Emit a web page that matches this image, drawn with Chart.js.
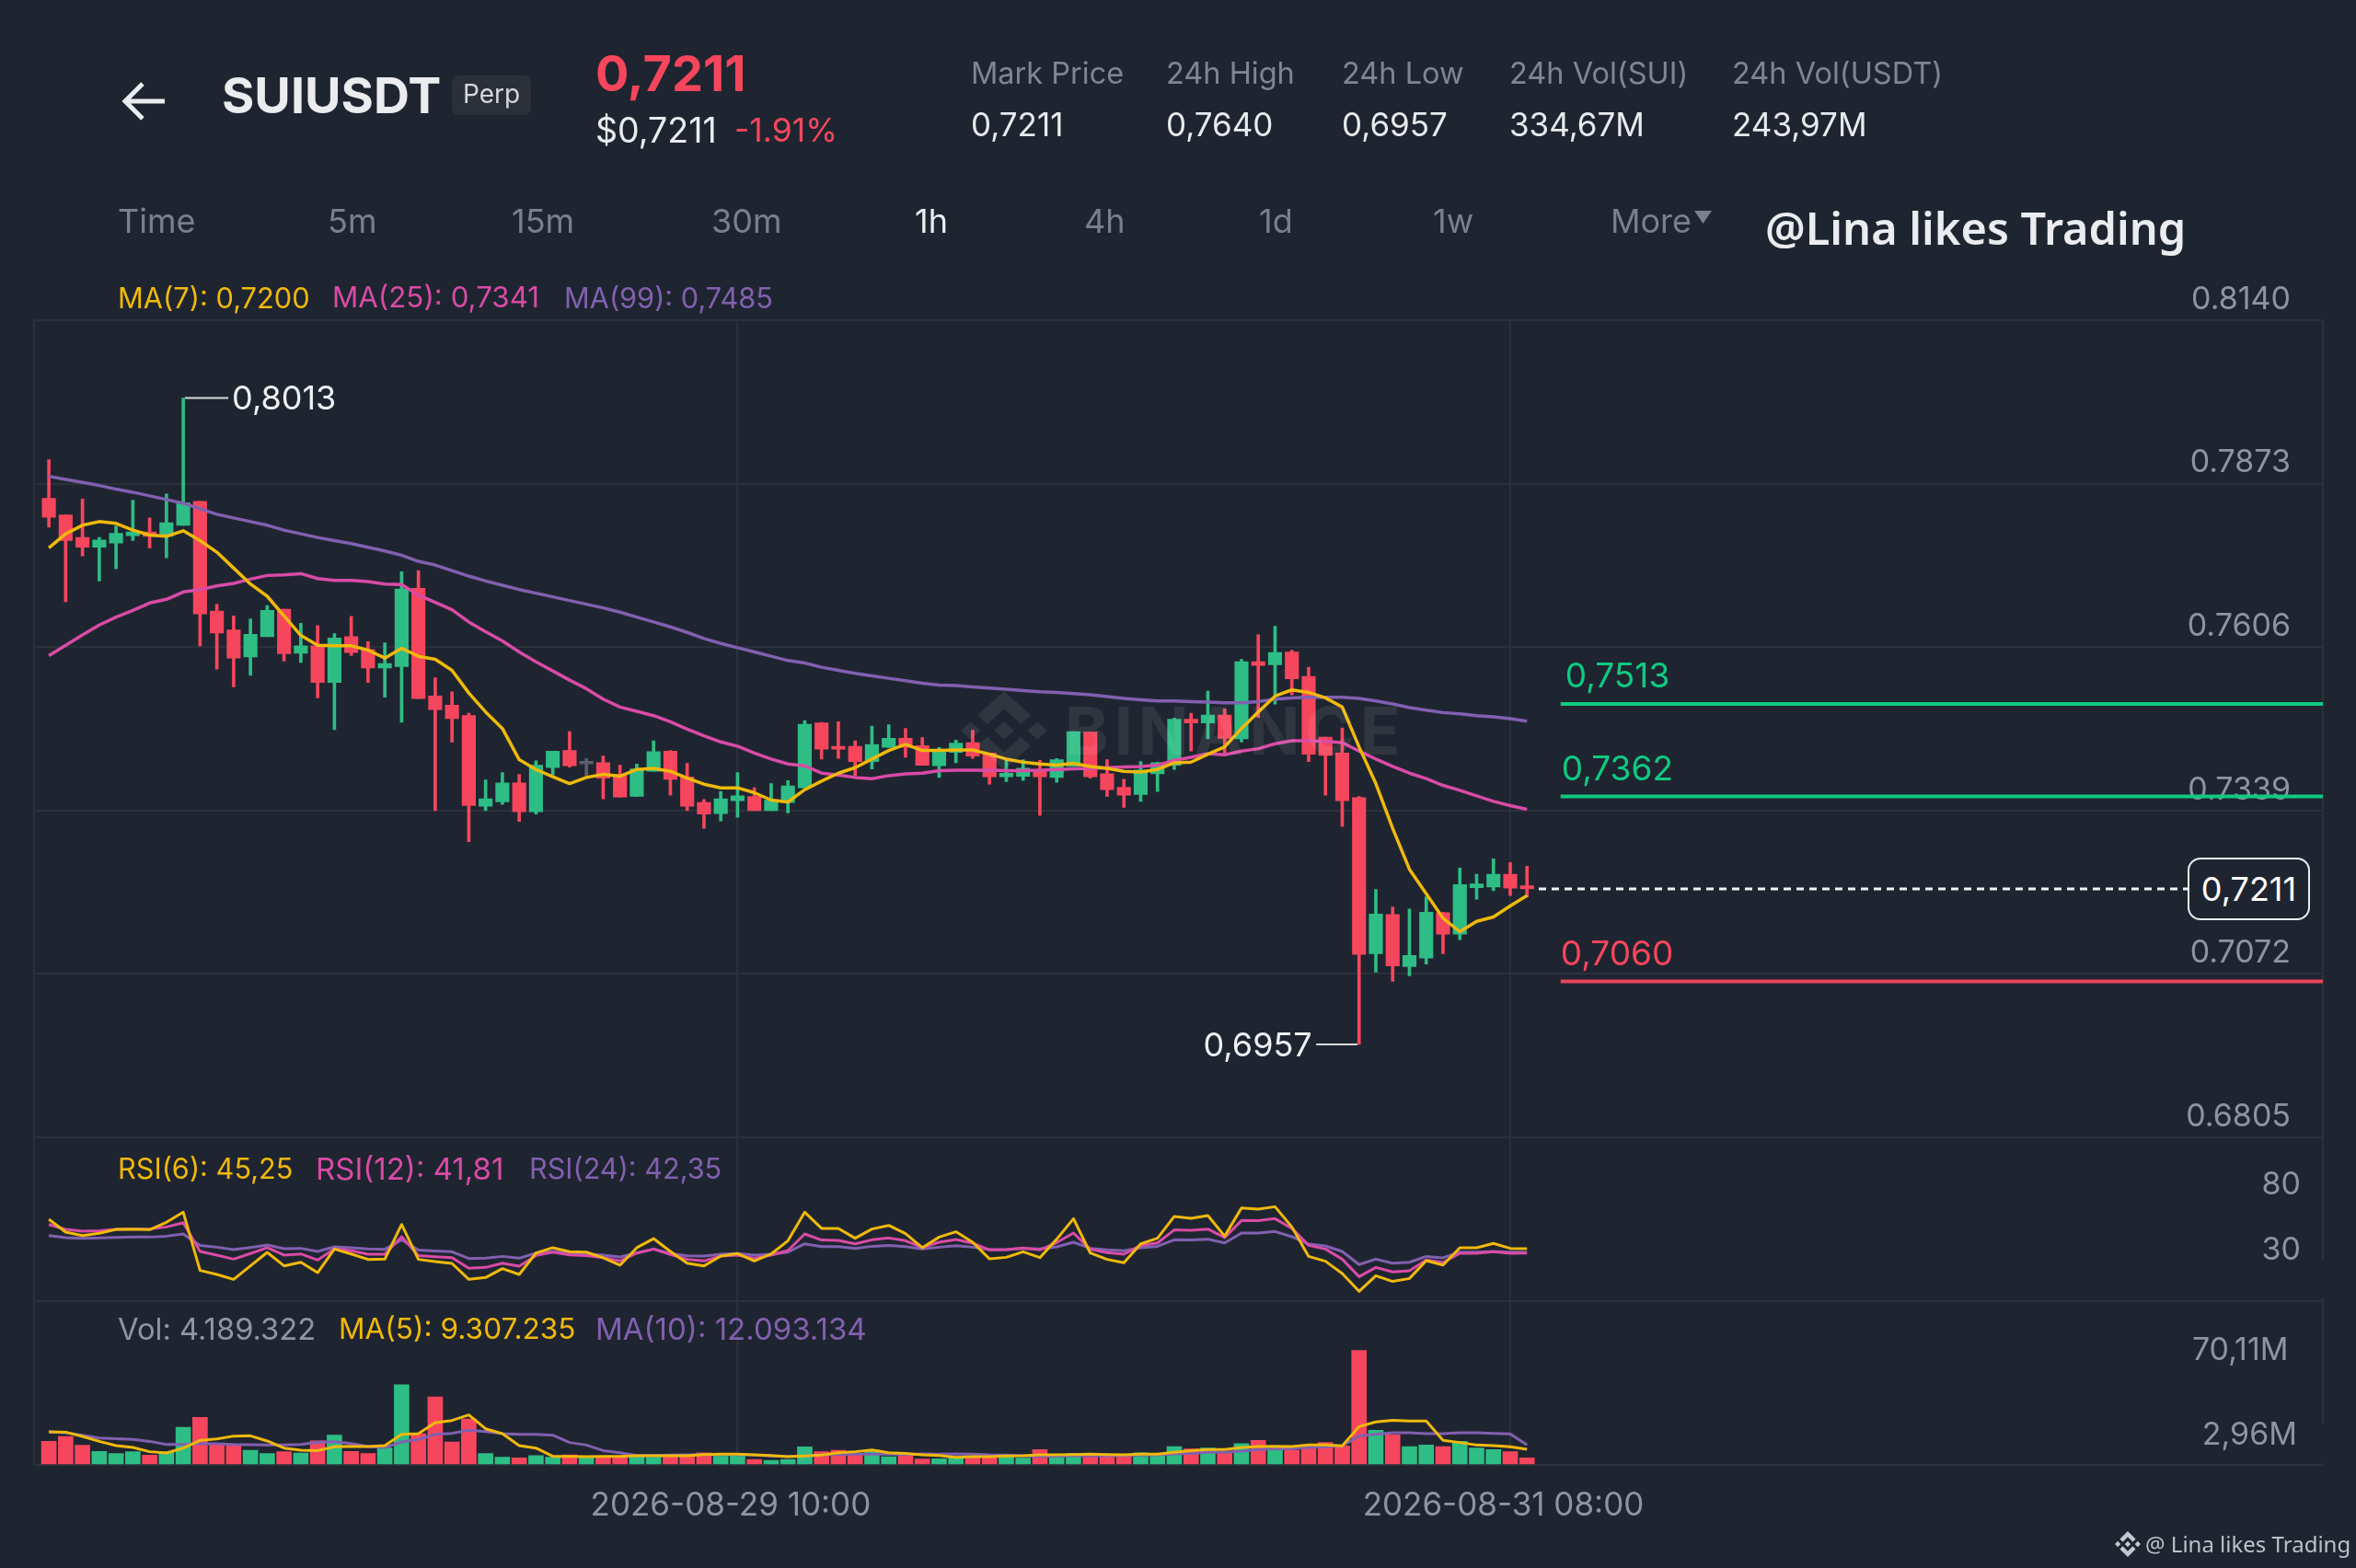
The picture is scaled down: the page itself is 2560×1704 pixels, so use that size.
<!DOCTYPE html>
<html><head><meta charset="utf-8">
<style>
html,body{margin:0;padding:0;background:#1f2530;width:2560px;height:1704px;overflow:hidden}
#w{position:relative;width:2560px;height:1704px;font-family:Inter,sans-serif}
canvas{position:absolute;left:0;top:0}
.t{position:absolute;white-space:nowrap;line-height:1;transform:translateY(-50%);pointer-events:none}
.g{color:#7f8691;font-size:32.5px}.v{color:#e8eaed;font-size:35px}.tab{color:#7a808b;font-size:36px}
.leg{font-size:31px}
</style></head><body><div id="w">
<canvas id="c" width="2560" height="1704"></canvas>
<svg style="position:absolute;left:131px;top:88px" width="52" height="44" viewBox="0 0 52 44"><path d="M48 22H6M24 3 5 22l19 19" fill="none" stroke="#eaecef" stroke-width="5"/></svg>
<div class="t" style="left:241px;top:104px;font-size:54px;font-weight:700;color:#eaecef">SUIUSDT</div>
<div style="position:absolute;left:491px;top:82px;width:86px;height:43px;background:#2b3038;border-radius:7px"></div>
<div class="t" style="left:503px;top:102px;font-size:28px;color:#d5d8dc">Perp</div>
<div class="t" style="left:647px;top:80px;font-size:54px;font-weight:700;color:#f6465d">0,7211</div>
<div class="t" style="left:647px;top:142px;font-size:37.5px;color:#eaecef">$0,7211</div>
<div class="t" style="left:798px;top:142px;font-size:35.5px;color:#f6465d">-1.91%</div>
<div class="t g" style="left:1055px;top:80px">Mark Price</div><div class="t v" style="left:1055px;top:135px">0,7211</div>
<div class="t g" style="left:1267px;top:80px">24h High</div><div class="t v" style="left:1267px;top:135px">0,7640</div>
<div class="t g" style="left:1458px;top:80px">24h Low</div><div class="t v" style="left:1458px;top:135px">0,6957</div>
<div class="t g" style="left:1640px;top:80px">24h Vol(SUI)</div><div class="t v" style="left:1640px;top:135px">334,67M</div>
<div class="t g" style="left:1882px;top:80px">24h Vol(USDT)</div><div class="t v" style="left:1882px;top:135px">243,97M</div>
<div class="t tab" style="left:128px;top:240px">Time</div>
<div class="t tab" style="left:356px;top:240px">5m</div>
<div class="t tab" style="left:556px;top:240px">15m</div>
<div class="t tab" style="left:773px;top:240px">30m</div>
<div class="t tab" style="left:994px;top:240px;color:#eaecef">1h</div>
<div class="t tab" style="left:1178px;top:240px">4h</div>
<div class="t tab" style="left:1368px;top:240px">1d</div>
<div class="t tab" style="left:1557px;top:240px">1w</div>
<div class="t tab" style="left:1750px;top:240px">More</div>
<svg style="position:absolute;left:1841px;top:229px" width="19" height="14"><path d="M0 0H19L9.5 14Z" fill="#7a808b"/></svg>
<div class="t" style="left:1918px;top:247px;font-family:'Noto Sans';font-weight:600;font-size:48.7px;color:#eaecef">@Lina likes Trading</div>
<div class="t leg" style="left:128px;top:324px;color:#f0b90b;font-size:30.8px">MA(7): 0,7200</div>
<div class="t leg" style="left:361px;top:324px;color:#d94ba6;font-size:31.3px">MA(25): 0,7341</div>
<div class="t leg" style="left:613px;top:324px;color:#8160b0;font-size:30.7px">MA(99): 0,7485</div>
<div class="t leg" style="left:128px;top:1270px;color:#f0b90b;font-size:30.7px">RSI(6): 45,25</div>
<div class="t leg" style="left:343px;top:1270px;color:#d94ba6;font-size:33px">RSI(12): 41,81</div>
<div class="t leg" style="left:575px;top:1270px;color:#8160b0;font-size:30.6px">RSI(24): 42,35</div>
<div class="t leg" style="left:128px;top:1444px;color:#8f95a0;font-size:32.7px">Vol: 4.189.322</div>
<div class="t leg" style="left:368px;top:1444px;color:#f0b90b;font-size:31.6px">MA(5): 9.307.235</div>
<div class="t leg" style="left:647px;top:1444px;color:#8160b0;font-size:33px">MA(10): 12.093.134</div>
<svg style="position:absolute;left:1044px;top:751px;pointer-events:none" width="94" height="86" viewBox="0 0 126.61 126.61" preserveAspectRatio="none"><g fill="rgba(255,255,255,.08)"><path d="M38.73 53.2l24.59-24.58 24.6 24.6 14.3-14.31L63.32 0 24.42 38.9l14.31 14.3z"/><path d="M0 63.31l14.3-14.31 14.31 14.31-14.31 14.3z"/><path d="M38.73 73.41l24.59 24.59 24.6-24.6 14.31 14.29-38.9 38.91-38.91-38.88-.02-.02z"/><path d="M98 63.31l14.3-14.31 14.31 14.3-14.31 14.32z"/><path d="M77.83 63.3L63.32 48.78 52.59 59.51l-1.24 1.23-2.54 2.54 14.51 14.5 14.51-14.47z"/></g></svg>
<div class="t" style="left:1157px;top:794px;font-size:72px;font-weight:700;letter-spacing:6px;color:rgba(255,255,255,.08)">BINANCE</div>
<div class="t" style="left:2377px;top:932px;width:129px;height:64px;transform:none;border:2.5px solid #eaecef;border-radius:14px;background:#1f2530;color:#fff;font-size:36px;text-align:center;line-height:64px">0,7211</div>
<div style="position:absolute;left:2522px;top:1370px;width:4px;height:41px;background:#1f2530"></div>
<div style="position:absolute;left:2522px;top:1547px;width:4px;height:43px;background:#1f2530"></div>
<svg style="position:absolute;left:2298px;top:1664px" width="28" height="28" viewBox="0 0 126.61 126.61"><g fill="#c4c8cf"><path d="M38.73 53.2l24.59-24.58 24.6 24.6 14.3-14.31L63.32 0 24.42 38.9l14.31 14.3z"/><path d="M0 63.31l14.3-14.31 14.31 14.31-14.31 14.3z"/><path d="M38.73 73.41l24.59 24.59 24.6-24.6 14.31 14.29-38.9 38.91-38.91-38.88-.02-.02z"/><path d="M98 63.31l14.3-14.31 14.31 14.3-14.31 14.32z"/><path d="M77.83 63.3L63.32 48.78 52.59 59.51l-1.24 1.23-2.54 2.54 14.51 14.5 14.51-14.47z"/></g></svg>
<div class="t" style="left:2331px;top:1678px;font-family:'Noto Sans';font-size:24px;color:#bcc1c9">@ Lina likes Trading</div>
</div>
<script src="https://cdn.jsdelivr.net/npm/chart.js@4/dist/chart.umd.min.js"></script>
<script>
const opens=[.7849,.7822,.7785,.7769,.7776,.7788,.7794,.7787,.7805,.7844,.7665,.7634,.7590,.7623,.7668,.7596,.7608,.7548,.7623,.7602,.7572,.7574,.7702,.7526,.7511,.7494,.7346,.7353,.7384,.7337,.7409,.7437,.7415,.7417,.7398,.7362,.7403,.7436,.7394,.7352,.7334,.7355,.7362,.7339,.7352,.7376,.7482,.7444,.7444,.7419,.7442,.7457,.7445,.7412,.7434,.7450,.7433,.7394,.7395,.7406,.7393,.7411,.7467,.7399,.7377,.7365,.7399,.7413,.7488,.7482,.7495,.7456,.7582,.7577,.7598,.7558,.7459,.7433,.7360,.7105,.7169,.7084,.7098,.7172,.7137,.7213,.7214,.7235,.7216];
const closes=[.7818,.7780,.7769,.7781,.7792,.7794,.7787,.7809,.7842,.7660,.7629,.7588,.7627,.7666,.7595,.7608,.7548,.7621,.7597,.7572,.7579,.7701,.7522,.7504,.7489,.7347,.7358,.7384,.7337,.7413,.7436,.7412,.7415,.7392,.7361,.7407,.7435,.7390,.7346,.7333,.7358,.7363,.7339,.7356,.7379,.7480,.7439,.7439,.7419,.7447,.7457,.7442,.7413,.7435,.7449,.7428,.7394,.7400,.7408,.7394,.7422,.7468,.7394,.7373,.7364,.7405,.7417,.7488,.7482,.7495,.7457,.7582,.7576,.7597,.7554,.7431,.7429,.7355,.7104,.7170,.7085,.7102,.7173,.7137,.7218,.7219,.7235,.7212,.7211];
const highs=[.7912,.7822,.7848,.7785,.7804,.7846,.7817,.7856,.8013,.7844,.7676,.7657,.7652,.7674,.7668,.7645,.7641,.7628,.7656,.7615,.7613,.7729,.7731,.7556,.7533,.7498,.7389,.7401,.7398,.7420,.7436,.7468,.7424,.7428,.7413,.7415,.7453,.7437,.7416,.7357,.7370,.7401,.7376,.7383,.7388,.7486,.7483,.7484,.7453,.7477,.7479,.7473,.7458,.7442,.7454,.7470,.7433,.7421,.7422,.7421,.7424,.7468,.7467,.7422,.7390,.7419,.7418,.7490,.7498,.7534,.7505,.7586,.7626,.7640,.7601,.7573,.7459,.7474,.7362,.7210,.7181,.7178,.7198,.7173,.7245,.7235,.7260,.7254,.7248];
const lows=[.7802,.7680,.7755,.7714,.7734,.7780,.7768,.7752,.7805,.7608,.7570,.7541,.7560,.7623,.7583,.7581,.7523,.7471,.7592,.7548,.7524,.7483,.7522,.7339,.7451,.7288,.7339,.7349,.7321,.7333,.7397,.7410,.7396,.7358,.7361,.7362,.7403,.7364,.7339,.7310,.7322,.7328,.7339,.7339,.7335,.7376,.7423,.7424,.7396,.7407,.7442,.7426,.7413,.7393,.7417,.7424,.7382,.7386,.7388,.7331,.7385,.7411,.7392,.7362,.7344,.7354,.7370,.7406,.7436,.7456,.7431,.7451,.7491,.7513,.7528,.7419,.7364,.7313,.6957,.7075,.7060,.7069,.7088,.7105,.7128,.7194,.7208,.7200,.7198];
const ma7=[.7768,.7791,.7805,.7811,.7808,.7797,.7789,.7787,.7796,.7780,.7761,.7735,.7709,.7689,.7657,.7625,.7609,.7608,.7608,.7601,.7588,.7604,.7591,.7586,.7568,.7531,.7500,.7473,.7422,.7406,.7394,.7383,.7393,.7398,.7395,.7406,.7408,.7403,.7392,.7382,.7376,.7376,.7368,.7356,.7353,.7373,.7387,.7400,.7409,.7423,.7437,.7447,.7437,.7437,.7438,.7438,.7431,.7423,.7418,.7415,.7413,.7416,.7411,.7408,.7403,.7402,.7406,.7417,.7418,.7431,.7443,.7473,.7500,.7526,.7536,.7532,.7523,.7508,.7443,.7383,.7310,.7243,.7203,.7163,.7141,.7158,.7165,.7183,.7200];
const ma25=[.7592,.7609,.7626,.7642,.7655,.7666,.7678,.7684,.7696,.7700,.7706,.7710,.7717,.7723,.7724,.7726,.7718,.7715,.7715,.7713,.7709,.7708,.7691,.7679,.7667,.7647,.7631,.7616,.7598,.7582,.7567,.7552,.7538,.7521,.7508,.7501,.7494,.7484,.7472,.7461,.7451,.7444,.7433,.7423,.7415,.7412,.7400,.7397,.7393,.7391,.7396,.7399,.7400,.7404,.7405,.7405,.7405,.7404,.7404,.7405,.7406,.7407,.7408,.7409,.7410,.7411,.7413,.7421,.7426,.7432,.7430,.7436,.7440,.7448,.7453,.7453,.7452,.7450,.7436,.7423,.7411,.7400,.7391,.7380,.7372,.7363,.7354,.7347,.7341];
const ma99=[.7885,.7880,.7875,.7870,.7864,.7859,.7853,.7847,.7841,.7832,.7823,.7817,.7811,.7805,.7797,.7791,.7785,.7780,.7775,.7769,.7763,.7756,.7746,.7740,.7731,.7722,.7714,.7707,.7700,.7694,.7688,.7682,.7676,.7670,.7663,.7655,.7647,.7639,.7630,.7620,.7612,.7605,.7598,.7591,.7584,.7580,.7573,.7568,.7563,.7559,.7555,.7551,.7547,.7544,.7543,.7541,.7539,.7537,.7535,.7533,.7532,.7530,.7528,.7525,.7522,.7520,.7518,.7518,.7517,.7516,.7515,.7515,.7517,.7521,.7523,.7524,.7524,.7524,.7522,.7518,.7513,.7507,.7503,.7499,.7497,.7494,.7492,.7489,.7485];
const rsi6=[67.9,58.0,55.4,57.1,60.1,60.4,59.9,65.6,73.4,28.5,25.4,21.6,32.0,42.4,32.0,34.8,26.8,45.0,41.2,37.0,37.2,63.9,37.0,35.3,33.9,21.6,23.0,29.9,25.4,41.9,46.0,42.9,42.6,38.2,32.5,46.0,53.0,43.1,34.1,32.0,39.6,41.5,35.8,41.2,51.4,73.4,60.9,60.9,53.3,60.4,63.2,56.8,46.0,54.2,58.3,50.2,37.4,38.6,42.9,38.4,52.6,68.4,41.9,37.0,34.4,49.0,53.3,70.1,68.7,70.8,54.9,76.7,75.7,77.6,62.0,39.3,35.6,26.1,12.4,24.4,20.0,22.3,36.0,32.7,46.0,46.0,49.3,45.5,45.25];
const rsi12=[63.9,60.1,58.7,59.0,60.1,60.4,60.4,62.0,65.3,43.1,40.3,37.2,41.5,46.0,40.3,41.2,36.5,45.0,43.6,41.0,41.0,54.5,40.0,39.1,38.4,30.1,30.8,34.1,31.8,40.0,42.6,40.5,40.0,38.4,35.8,41.9,45.0,40.8,37.0,35.8,39.6,40.3,37.9,40.3,43.8,56.6,51.9,51.6,49.0,52.1,53.5,51.4,46.2,50.2,52.3,49.5,44.3,44.5,45.7,44.3,50.0,57.3,44.8,42.2,41.0,47.8,49.7,59.7,59.4,60.4,53.8,67.0,66.8,68.4,60.9,47.8,45.0,37.2,23.7,30.8,27.3,28.2,36.5,34.6,41.7,41.7,42.9,41.7,41.81];
const rsi24=[55.4,53.8,53.3,53.5,54.0,54.2,54.2,54.9,56.6,47.8,46.4,44.5,46.2,48.1,45.2,45.5,43.1,46.7,46.0,45.0,44.8,52.1,44.1,43.4,42.9,37.7,37.9,39.3,37.9,41.9,43.1,41.7,41.2,40.3,38.9,41.9,45.0,41.5,39.8,39.6,41.0,41.5,40.3,41.0,42.6,49.0,46.9,46.9,45.5,47.1,47.8,46.9,45.0,46.4,47.6,46.4,44.5,44.5,45.5,45.0,46.7,50.2,45.5,44.3,43.6,46.0,47.1,52.1,51.9,52.6,49.7,57.3,57.3,58.5,54.5,48.8,47.4,43.1,33.0,37.2,34.1,34.8,39.3,38.2,42.6,42.6,43.1,42.6,42.35];
const volumes=[18.7,22.6,15.6,10.7,9.0,10.5,7.8,10.5,29.9,37.7,16.3,15.8,11.7,9.0,10.5,9.5,19.2,23.6,10.7,9.0,13.4,63.7,24.8,54.0,18.2,36.5,9.0,6.1,5.6,7.5,6.1,8.0,5.8,6.6,6.1,7.3,6.1,6.8,6.6,9.7,7.5,7.3,4.4,3.6,4.4,14.4,10.5,11.7,8.0,11.9,6.6,8.0,4.6,4.9,6.1,7.3,6.1,6.6,5.4,12.2,6.1,9.0,7.3,7.3,7.3,9.7,8.5,14.6,12.7,13.4,9.7,17.0,19.5,12.7,11.7,13.4,17.8,15.1,90.8,27.5,23.8,14.6,15.8,14.6,18.7,13.4,12.2,10.5,5.6];
const volMa5=[26.3,26.0,22.6,18.7,15.3,13.9,10.5,9.5,13.4,19.5,20.7,22.9,23.1,19.0,13.4,11.7,11.4,14.4,14.8,14.6,15.3,24.3,24.8,33.6,35.3,39.7,28.7,24.8,15.3,13.4,6.8,6.8,6.6,6.8,6.8,7.3,7.3,7.3,7.3,8.3,8.5,8.5,8.0,7.5,6.6,7.1,7.8,9.7,10.5,11.9,9.7,9.2,8.0,7.5,6.1,6.6,6.6,7.1,7.3,8.0,8.0,8.3,8.5,8.3,8.0,8.5,8.5,10.0,11.4,12.2,12.2,13.9,14.6,14.8,14.6,15.8,15.8,15.1,30.4,34.1,35.5,34.8,34.8,19.5,17.8,15.8,15.3,14.4,12.4];
const volMa10=[26.3,25.5,23.6,21.4,20.9,20.2,18.7,16.3,16.3,17.0,16.8,16.3,16.1,15.8,15.8,16.3,18.0,18.5,17.0,14.6,13.9,18.2,20.2,24.3,25.1,27.5,26.5,24.8,24.3,24.3,23.6,17.8,15.8,11.4,9.7,7.5,7.5,7.8,8.0,8.3,8.3,8.3,7.8,7.1,6.8,7.1,8.0,8.3,8.5,8.5,8.8,8.3,8.8,8.5,8.8,8.5,8.0,7.8,7.3,6.8,7.1,7.3,7.5,7.3,7.5,7.8,8.0,8.8,9.2,10.0,10.0,10.9,12.2,12.7,12.7,13.9,14.4,15.1,23.1,24.3,25.5,25.5,24.8,24.8,25.5,25.5,25.1,24.6,15.8];
const priceTicks=[.8140,.7873,.7606,.7339,.7072,.6805];
const rsiTicks=[30,80];
const volTicks=[2.96,70.11];
const volTickLabels=['2,96M','70,11M\u00A0'];
const timeTickIndex=[41,87];
const timeTickLabels=['2026-08-29 10:00','2026-08-31 08:00'];
const levelGreen=[.7513,.7362];
const levelRed=[.7060];
const lastPrice=.7211;
const extremes=[{i:8,v:.8013,t:'0,8013'},{i:78,v:.6957,t:'0,6957'}];

const UP='#2ebd85',DOWN='#f6465d',DOJI='#5a5f68',BG='#1f2530',GRID='#2b313b',TICK='#8f95a0';
const YEL='#f0b90b',PINK='#d94ba6',PUR='#8160b0',LEVG='#0ecb81',LEVR='#e8455a';
const XMIN=-0.91,XMAX=135.38,LEVEL_X=90,DASH_FROM=88.7,DASH_TO=127.4;
const idx=opens.map((_,i)=>i);
const dir=idx.map(i=>closes[i]>opens[i]?UP:closes[i]<opens[i]?DOWN:DOJI);
const volDir=idx.map(i=>closes[i]>=opens[i]?UP:DOWN);
const xy=a=>a.map((y,x)=>({x,y}));
const line=(data,color,axis,order,w=3.5,extra={})=>Object.assign({type:'line',data:xy(data),borderColor:color,borderWidth:w,pointRadius:0,tension:0,yAxisID:axis,xAxisID:'x',order,borderJoinStyle:'round'},extra);
const seg=(x0,x1,v,color,w,order,extra={})=>Object.assign({type:'line',data:[{x:x0,y:v},{x:x1,y:v}],borderColor:color,borderWidth:w,pointRadius:0,yAxisID:'y',xAxisID:'x',order},extra);
const datasets=[
 {type:'bar',data:idx.map(i=>({x:i,y:[lows[i],highs[i]]})),backgroundColor:dir,barThickness:3,grouped:false,yAxisID:'y',xAxisID:'x',order:20},
 {type:'bar',data:idx.map(i=>({x:i,y:[opens[i],closes[i]]})),backgroundColor:dir,barThickness:14.5,minBarLength:3,grouped:false,yAxisID:'y',xAxisID:'x',order:19},
 line(ma99,PUR,'y',12),line(ma25,PINK,'y',11),line(ma7,YEL,'y',10),
 seg(LEVEL_X,XMAX,levelGreen[0],LEVG,4,5),seg(LEVEL_X,XMAX,levelGreen[1],LEVG,4,5),seg(LEVEL_X,XMAX,levelRed[0],LEVR,4,5),
 seg(DASH_FROM,DASH_TO,lastPrice,'#f2f3f5',3,6,{borderDash:[8,6]}),
 seg(extremes[0].i+.1,10.68,extremes[0].v,'#d8dade',2,7),
 seg(extremes[1].i-.1,75.45,extremes[1].v,'#d8dade',2,7),
 line(rsi24,PUR,'rsi',12,3),line(rsi12,PINK,'rsi',11,3),line(rsi6,YEL,'rsi',10,3),
 {type:'bar',data:idx.map(i=>({x:i,y:volumes[i]})),backgroundColor:volDir,barThickness:16,grouped:false,yAxisID:'vol',xAxisID:'x',order:15},
 line(volMa10,PUR,'vol',12,3),line(volMa5,YEL,'vol',10,3)
];
const tickFont={family:'Inter',size:34};
const annot={id:'annot',afterDatasetsDraw(ch){
 const {ctx,scales:{x,y}}=ch;ctx.save();ctx.textBaseline='middle';ctx.font='36px Inter';ctx.fillStyle='#eef0f2';
 ctx.textAlign='left';ctx.fillText(extremes[0].t,x.getPixelForValue(extremes[0].i)+53,y.getPixelForValue(extremes[0].v)+2);
 ctx.textAlign='right';ctx.fillText(extremes[1].t,x.getPixelForValue(extremes[1].i)-51,y.getPixelForValue(extremes[1].v)+2);
 ctx.textAlign='left';ctx.font='37px Inter';
 ctx.fillStyle=LEVG;levelGreen.forEach((v,i)=>ctx.fillText(v.toFixed(4).replace('.',','),x.getPixelForValue(LEVEL_X)+(i?1:5),y.getPixelForValue(v)-29));
 ctx.fillStyle=DOWN;levelRed.forEach(v=>ctx.fillText(v.toFixed(4).replace('.',','),x.getPixelForValue(LEVEL_X),y.getPixelForValue(v)-29));
 ctx.restore();}};
const yBase={position:'right',stack:'p',border:{display:false},afterFit:s=>{s.width=0}};
new Chart(document.getElementById('c'),{type:'bar',data:{datasets},plugins:[annot],options:{
 responsive:false,animation:false,devicePixelRatio:1,
 layout:{padding:{top:348,left:36.5,right:36,bottom:0}},
 plugins:{legend:{display:false},tooltip:{enabled:false}},
 scales:{
  x:{type:'linear',min:XMIN,max:XMAX,offset:false,border:{display:false},
   afterBuildTicks:s=>{s.ticks=[XMIN,...timeTickIndex,XMAX].map(value=>({value}))},
   afterFit:s=>{s.height=112},
   grid:{offset:false,color:GRID,lineWidth:2,drawTicks:false},
   ticks:{autoSkip:false,maxRotation:0,padding:23,labelOffset:-7.5,color:TICK,font:{family:'Inter',size:35},callback:v=>{const k=timeTickIndex.indexOf(v);return k<0?'':timeTickLabels[k]}}},
  y:Object.assign({},yBase,{type:'linear',min:.6805,max:.8140,weight:0,stackWeight:888,
   afterBuildTicks:s=>{s.ticks=priceTicks.map(value=>({value}))},
   grid:{color:GRID,lineWidth:2,drawTicks:false},
   ticks:{mirror:true,padding:-35,labelOffset:-22.5,color:TICK,font:tickFont,autoSkip:false,callback:v=>v.toFixed(4)}}),
  rsi:Object.assign({},yBase,{type:'linear',min:4.82,max:131.06,weight:1,stackWeight:178,
   afterBuildTicks:s=>{s.ticks=rsiTicks.map(value=>({value}))},
   grid:{display:false},
   ticks:{mirror:true,padding:-24,labelOffset:-20,color:TICK,font:tickFont,autoSkip:false,callback:v=>String(v)}}),
  vol:Object.assign({},yBase,{type:'linear',min:0,max:130,weight:2,stackWeight:178,
   afterBuildTicks:s=>{s.ticks=[0,...volTicks,130].map(value=>({value}))},
   grid:{drawTicks:false,lineWidth:2,color:c=>volTicks.includes(c.tick.value)?'transparent':GRID},
   ticks:{mirror:true,padding:-28,labelOffset:-28,color:TICK,font:tickFont,autoSkip:false,callback:v=>{const k=volTicks.indexOf(v);return k<0?'':volTickLabels[k]}}})
 }}});
</script></body></html>
